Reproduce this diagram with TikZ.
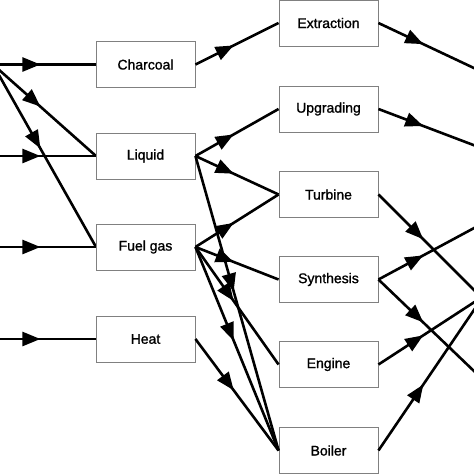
\documentclass[tikz,border=0pt]{standalone}
\usepackage{fontspec}
\setmainfont{Liberation Sans}
\newfontfamily\boxfont{Liberation Sans}[FakeBold=1.2]
\usetikzlibrary{arrows.meta,decorations.markings}
\tikzset{
  box/.style={draw={rgb,255:red,128;green,128;blue,128}, line width=0.9pt, fill=white,
    minimum width=99pt, minimum height=46pt, inner sep=0pt, font=\boxfont\fontsize{14pt}{16pt}\selectfont},
  flow/.style={line width=2.6pt, black, postaction={decorate},
    decoration={markings, mark=at position 0.46 with {\arrow{Triangle[length=18pt,width=14pt]}}}}
}
\begin{document}
\begin{tikzpicture}[x=1pt,y=-1pt]
\clip (0,0) rectangle (474,474);
\fill[white] (0,0) rectangle (474,474);
% left free ends
\coordinate (s1) at (-7,64.5);
\coordinate (s2) at (-7,156);
\coordinate (s3) at (-7,247);
\coordinate (s4) at (-7,339);
% right free ends
\coordinate (r1) at (476,69);
\coordinate (r2) at (476,146);
\coordinate (r3) at (476,292);
\coordinate (r4) at (476,227);
\coordinate (r5) at (476,373);
\coordinate (r6) at (476,301);
\coordinate (r7) at (476,307);
% edges into the first column
\draw[flow] (s1) -- (96,64.5);
\draw[flow] (s1) -- (96,156);
\draw[flow] (s1) -- (96,247);
\draw[flow] (s2) -- (96,156);
\draw[flow] (s3) -- (96,247);
\draw[flow] (s4) -- (96,339);
% boxes
\node[box] (charcoal) at (145.5,64.5) {Charcoal};
\node[box] (liquid) at (145.5,156) {Liquid};
\node[box] (fuelgas) at (145.5,247) {Fuel gas};
\node[box] (heat) at (145.5,339) {Heat};
\node[box] (extraction) at (328.5,23) {Extraction};
\node[box] (upgrading) at (328.5,109) {Upgrading};
\node[box] (turbine) at (328.5,194.5) {Turbine};
\node[box] (synthesis) at (328.5,279.5) {Synthesis};
\node[box] (engine) at (328.5,364.5) {Engine};
\node[box] (boiler) at (328.5,450.5) {Boiler};
% middle edges
\draw[flow] (charcoal.east) -- (extraction.west);
\draw[flow] (liquid.east) -- (upgrading.west);
\draw[flow] (liquid.east) -- (turbine.west);
\draw[flow] (liquid.east) -- (boiler.west);
\draw[flow] (fuelgas.east) -- (turbine.west);
\draw[flow] (fuelgas.east) -- (synthesis.west);
\draw[flow] (fuelgas.east) -- (engine.west);
\draw[flow] (fuelgas.east) -- (boiler.west);
\draw[flow] (heat.east) -- (boiler.west);
% right edges
\draw[flow] (extraction.east) -- (r1);
\draw[flow] (upgrading.east) -- (r2);
\draw[flow] (turbine.east) -- (r3);
\draw[flow] (synthesis.east) -- (r4);
\draw[flow] (synthesis.east) -- (r5);
\draw[flow] (engine.east) -- (r6);
\draw[flow] (boiler.east) -- (r7);
\end{tikzpicture}
\end{document}
